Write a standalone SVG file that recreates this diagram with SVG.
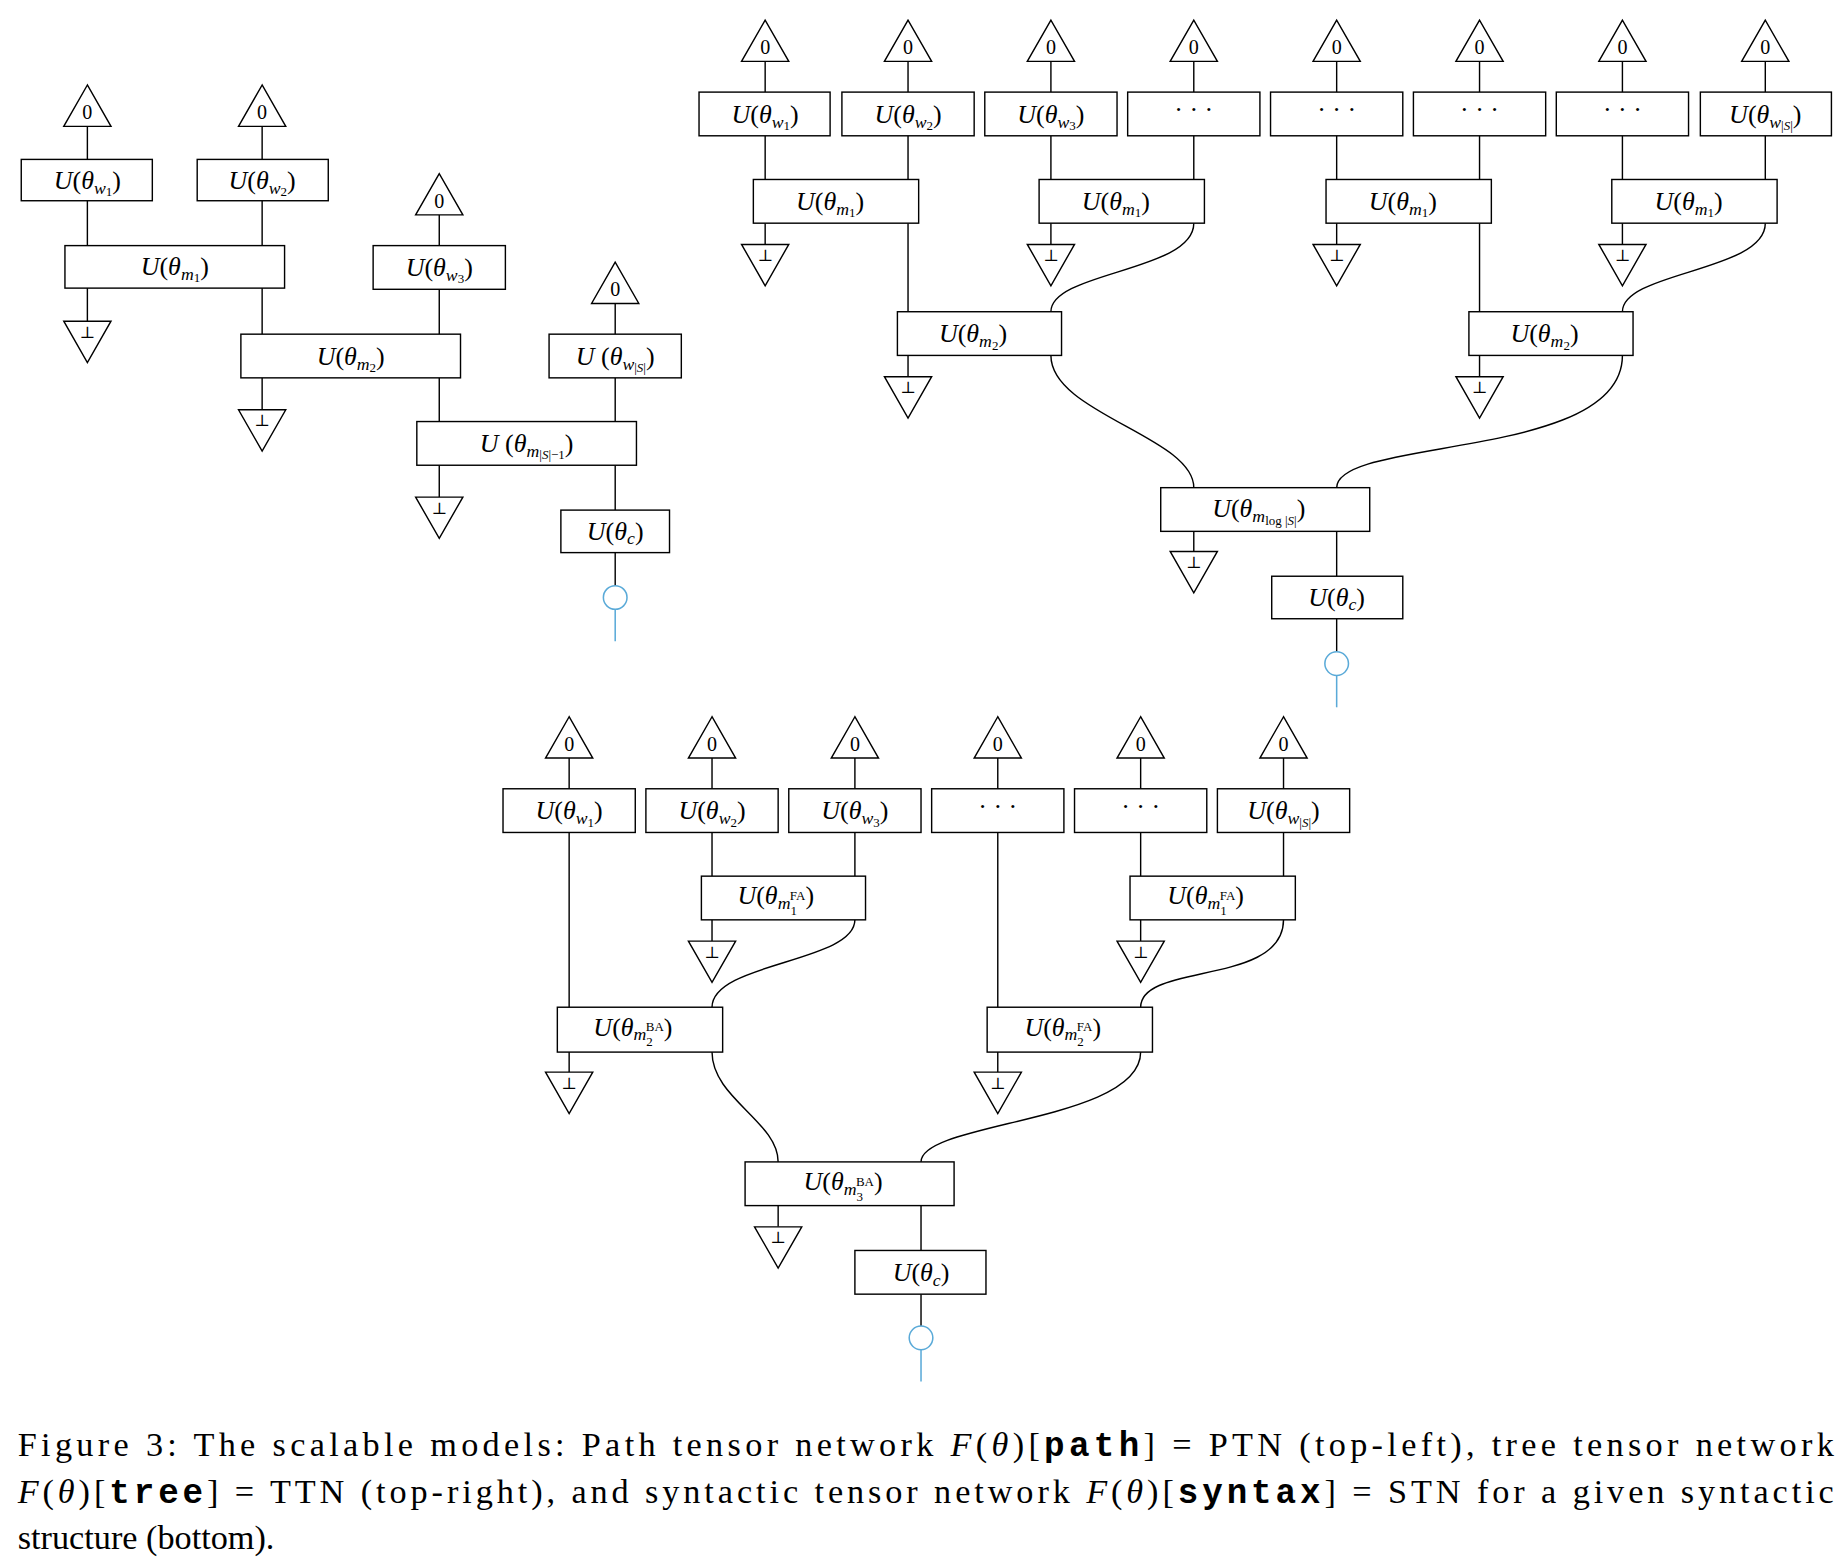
<svg xmlns="http://www.w3.org/2000/svg" width="1842" height="1564" viewBox="0 0 1842 1564">
<style>
.b{fill:#fff;stroke:#000;stroke-width:1.2}
.t{fill:#fff;stroke:#000;stroke-width:1.2}
.w{fill:none;stroke:#000;stroke-width:1.2}
.bl{fill:none;stroke:#5aaad8;stroke-width:1.3}
text{font-family:"Liberation Serif","DejaVu Serif",serif;fill:#000}
.l{font-size:22px;text-anchor:middle}
.i{font-style:italic}
.s{font-size:15px;font-style:italic}
.ss{font-size:11px}
.z{font-size:17px;text-anchor:middle}
.p{font-size:14px;text-anchor:middle}
.c{font-size:29px}
.m{font-family:"Liberation Mono","DejaVu Sans Mono",monospace;font-weight:bold}
</style>
<rect width="1842" height="1564" fill="#fff"/>
<g transform="scale(1.1808)">
<g id="connectors">
<!-- PTN -->
<path class="w" d="M74 107V135M222 107V135M74 170V208M222 170V208M74 244V272M372 182V208M222 244V283M372 245V283M222 320V347M521 257V283M372 320V357M521 320V357M372 394V421M521 394V432M521 468V496"/>
<path class="bl" d="M521 516V543"/>
<!-- TTN -->
<path class="w" d="M648 52V78M769 52V78M890 52V78M1011 52V78M1132 52V78M1253 52V78M1374 52V78M1495 52V78"/>
<path class="w" d="M648 115V152M769 115V152M890 115V152M1011 115V152M1132 115V152M1253 115V152M1374 115V152M1495 115V152"/>
<path class="w" d="M648 189V207M890 189V207M1132 189V207M1374 189V207"/>
<path class="w" d="M769 189V264M1253 189V264M1011 189C1011 230 890 230 890 264M1495 189C1495 230 1374 230 1374 264"/>
<path class="w" d="M769 301V319M1253 301V319M890 301C890 350 1011 370 1011 413M1374 301C1374 390 1132 370 1132 413"/>
<path class="w" d="M1011 450V467M1132 450V488M1132 524V552"/>
<path class="bl" d="M1132 572V599"/>
<!-- STN -->
<path class="w" d="M482 642V668M603 642V668M724 642V668M845 642V668M966 642V668M1087 642V668"/>
<path class="w" d="M603 705V742M724 705V742M966 705V742M1087 705V742M482 705V853M845 705V853"/>
<path class="w" d="M603 779V797M966 779V797M724 779C724 815 603 815 603 853M1087 779C1087 835 966 815 966 853"/>
<path class="w" d="M482 891V908M845 891V908M603 891C603 930 659 950 659 984M966 891C966 950 780 950 780 984"/>
<path class="w" d="M659 1021V1039M780 1021V1059M780 1096V1123"/>
<path class="bl" d="M780 1143V1170"/>
</g>

<!-- ===== PTN nodes ===== -->
<g id="ptn-z1"><polygon class="t" points="74,72 54,107 94,107"/><text class="z" x="74" y="101">0</text></g>
<g id="ptn-z2"><polygon class="t" points="222,72 202,107 242,107"/><text class="z" x="222" y="101">0</text></g>
<g id="ptn-z3"><polygon class="t" points="372,147 352,182 392,182"/><text class="z" x="372" y="176">0</text></g>
<g id="ptn-z4"><polygon class="t" points="521,222 501,257 541,257"/><text class="z" x="521" y="251">0</text></g>
<g id="ptn-w1"><rect class="b" x="18" y="135" width="111" height="35"/><text class="l" x="74" y="160"><tspan class="i">U</tspan>(<tspan class="i">θ</tspan><tspan class="s" dy="4">w</tspan><tspan class="ss" dy="2">1</tspan><tspan dy="-6">)</tspan></text></g>
<g id="ptn-w2"><rect class="b" x="167" y="135" width="111" height="35"/><text class="l" x="222" y="160"><tspan class="i">U</tspan>(<tspan class="i">θ</tspan><tspan class="s" dy="4">w</tspan><tspan class="ss" dy="2">2</tspan><tspan dy="-6">)</tspan></text></g>
<g id="ptn-m1"><rect class="b" x="55" y="208" width="186" height="36"/><text class="l" x="148" y="233"><tspan class="i">U</tspan>(<tspan class="i">θ</tspan><tspan class="s" dy="4">m</tspan><tspan class="ss" dy="2">1</tspan><tspan dy="-6">)</tspan></text></g>
<g id="ptn-w3"><rect class="b" x="316" y="208" width="112" height="37"/><text class="l" x="372" y="234"><tspan class="i">U</tspan>(<tspan class="i">θ</tspan><tspan class="s" dy="4">w</tspan><tspan class="ss" dy="2">3</tspan><tspan dy="-6">)</tspan></text></g>
<g id="ptn-m2"><rect class="b" x="204" y="283" width="186" height="37"/><text class="l" x="297" y="309"><tspan class="i">U</tspan>(<tspan class="i">θ</tspan><tspan class="s" dy="4">m</tspan><tspan class="ss" dy="2">2</tspan><tspan dy="-6">)</tspan></text></g>
<g id="ptn-ws"><rect class="b" x="465" y="283" width="112" height="37"/><text class="l" x="521" y="309"><tspan class="i">U</tspan> (<tspan class="i">θ</tspan><tspan class="s" dy="4">w</tspan><tspan class="ss" dy="2">|<tspan class="i">S</tspan>|</tspan><tspan dy="-6">)</tspan></text></g>
<g id="ptn-ms1"><rect class="b" x="353" y="357" width="186" height="37"/><text class="l" x="446" y="383"><tspan class="i">U</tspan> (<tspan class="i">θ</tspan><tspan class="s" dy="4">m</tspan><tspan class="ss" dy="2">|<tspan class="i">S</tspan>|−1</tspan><tspan dy="-6">)</tspan></text></g>
<g id="ptn-c"><rect class="b" x="475" y="432" width="92" height="36"/><text class="l" x="521" y="457"><tspan class="i">U</tspan>(<tspan class="i">θ</tspan><tspan class="s" dy="4">c</tspan><tspan dy="-4">)</tspan></text></g>
<g id="ptn-b1"><polygon class="t" points="54,272 94,272 74,307"/><text class="p" x="74" y="286">⊥</text></g>
<g id="ptn-b2"><polygon class="t" points="202,347 242,347 222,382"/><text class="p" x="222" y="361">⊥</text></g>
<g id="ptn-b3"><polygon class="t" points="352,421 392,421 372,456"/><text class="p" x="372" y="435">⊥</text></g>
<g id="ptn-out"><circle class="bl" cx="521" cy="506" r="10"/></g>

<!-- ===== TTN nodes ===== -->
<g id="ttn-z1"><polygon class="t" points="648,17 628,52 668,52"/><text class="z" x="648" y="46">0</text></g>
<g id="ttn-z2"><polygon class="t" points="769,17 749,52 789,52"/><text class="z" x="769" y="46">0</text></g>
<g id="ttn-z3"><polygon class="t" points="890,17 870,52 910,52"/><text class="z" x="890" y="46">0</text></g>
<g id="ttn-z4"><polygon class="t" points="1011,17 991,52 1031,52"/><text class="z" x="1011" y="46">0</text></g>
<g id="ttn-z5"><polygon class="t" points="1132,17 1112,52 1152,52"/><text class="z" x="1132" y="46">0</text></g>
<g id="ttn-z6"><polygon class="t" points="1253,17 1233,52 1273,52"/><text class="z" x="1253" y="46">0</text></g>
<g id="ttn-z7"><polygon class="t" points="1374,17 1354,52 1394,52"/><text class="z" x="1374" y="46">0</text></g>
<g id="ttn-z8"><polygon class="t" points="1495,17 1475,52 1515,52"/><text class="z" x="1495" y="46">0</text></g>
<g id="ttn-w1"><rect class="b" x="592" y="78" width="111" height="37"/><text class="l" x="648" y="104"><tspan class="i">U</tspan>(<tspan class="i">θ</tspan><tspan class="s" dy="4">w</tspan><tspan class="ss" dy="2">1</tspan><tspan dy="-6">)</tspan></text></g>
<g id="ttn-w2"><rect class="b" x="713" y="78" width="112" height="37"/><text class="l" x="769" y="104"><tspan class="i">U</tspan>(<tspan class="i">θ</tspan><tspan class="s" dy="4">w</tspan><tspan class="ss" dy="2">2</tspan><tspan dy="-6">)</tspan></text></g>
<g id="ttn-w3"><rect class="b" x="834" y="78" width="112" height="37"/><text class="l" x="890" y="104"><tspan class="i">U</tspan>(<tspan class="i">θ</tspan><tspan class="s" dy="4">w</tspan><tspan class="ss" dy="2">3</tspan><tspan dy="-6">)</tspan></text></g>
<g id="ttn-d1"><rect class="b" x="955" y="78" width="112" height="37"/><text class="l" x="1011" y="100">· · ·</text></g>
<g id="ttn-d2"><rect class="b" x="1076" y="78" width="112" height="37"/><text class="l" x="1132" y="100">· · ·</text></g>
<g id="ttn-d3"><rect class="b" x="1197" y="78" width="112" height="37"/><text class="l" x="1253" y="100">· · ·</text></g>
<g id="ttn-d4"><rect class="b" x="1318" y="78" width="112" height="37"/><text class="l" x="1374" y="100">· · ·</text></g>
<g id="ttn-ws"><rect class="b" x="1440" y="78" width="111" height="37"/><text class="l" x="1495" y="104"><tspan class="i">U</tspan>(<tspan class="i">θ</tspan><tspan class="s" dy="4">w</tspan><tspan class="ss" dy="2">|<tspan class="i">S</tspan>|</tspan><tspan dy="-6">)</tspan></text></g>
<g id="ttn-m1a"><rect class="b" x="638" y="152" width="140" height="37"/><text class="l" x="703" y="178"><tspan class="i">U</tspan>(<tspan class="i">θ</tspan><tspan class="s" dy="4">m</tspan><tspan class="ss" dy="2">1</tspan><tspan dy="-6">)</tspan></text></g>
<g id="ttn-m1b"><rect class="b" x="880" y="152" width="140" height="37"/><text class="l" x="945" y="178"><tspan class="i">U</tspan>(<tspan class="i">θ</tspan><tspan class="s" dy="4">m</tspan><tspan class="ss" dy="2">1</tspan><tspan dy="-6">)</tspan></text></g>
<g id="ttn-m1c"><rect class="b" x="1123" y="152" width="140" height="37"/><text class="l" x="1188" y="178"><tspan class="i">U</tspan>(<tspan class="i">θ</tspan><tspan class="s" dy="4">m</tspan><tspan class="ss" dy="2">1</tspan><tspan dy="-6">)</tspan></text></g>
<g id="ttn-m1d"><rect class="b" x="1365" y="152" width="140" height="37"/><text class="l" x="1430" y="178"><tspan class="i">U</tspan>(<tspan class="i">θ</tspan><tspan class="s" dy="4">m</tspan><tspan class="ss" dy="2">1</tspan><tspan dy="-6">)</tspan></text></g>
<g id="ttn-b1"><polygon class="t" points="628,207 668,207 648,242"/><text class="p" x="648" y="221">⊥</text></g>
<g id="ttn-b2"><polygon class="t" points="870,207 910,207 890,242"/><text class="p" x="890" y="221">⊥</text></g>
<g id="ttn-b3"><polygon class="t" points="1112,207 1152,207 1132,242"/><text class="p" x="1132" y="221">⊥</text></g>
<g id="ttn-b4"><polygon class="t" points="1354,207 1394,207 1374,242"/><text class="p" x="1374" y="221">⊥</text></g>
<g id="ttn-m2a"><rect class="b" x="760" y="264" width="139" height="37"/><text class="l" x="824" y="290"><tspan class="i">U</tspan>(<tspan class="i">θ</tspan><tspan class="s" dy="4">m</tspan><tspan class="ss" dy="2">2</tspan><tspan dy="-6">)</tspan></text></g>
<g id="ttn-m2b"><rect class="b" x="1244" y="264" width="139" height="37"/><text class="l" x="1308" y="290"><tspan class="i">U</tspan>(<tspan class="i">θ</tspan><tspan class="s" dy="4">m</tspan><tspan class="ss" dy="2">2</tspan><tspan dy="-6">)</tspan></text></g>
<g id="ttn-b5"><polygon class="t" points="749,319 789,319 769,354"/><text class="p" x="769" y="333">⊥</text></g>
<g id="ttn-b6"><polygon class="t" points="1233,319 1273,319 1253,354"/><text class="p" x="1253" y="333">⊥</text></g>
<g id="ttn-mlog"><rect class="b" x="983" y="413" width="177" height="37"/><text class="l" x="1066" y="438"><tspan class="i">U</tspan>(<tspan class="i">θ</tspan><tspan class="s" dy="4">m</tspan><tspan class="ss" dy="3">log |<tspan class="i">S</tspan>|</tspan><tspan dy="-7">)</tspan></text></g>
<g id="ttn-b7"><polygon class="t" points="991,467 1031,467 1011,502"/><text class="p" x="1011" y="481">⊥</text></g>
<g id="ttn-c"><rect class="b" x="1077" y="488" width="111" height="36"/><text class="l" x="1132" y="513"><tspan class="i">U</tspan>(<tspan class="i">θ</tspan><tspan class="s" dy="4">c</tspan><tspan dy="-4">)</tspan></text></g>
<g id="ttn-out"><circle class="bl" cx="1132" cy="562" r="10"/></g>

<!-- ===== STN nodes ===== -->
<g id="stn-z1"><polygon class="t" points="482,607 462,642 502,642"/><text class="z" x="482" y="636">0</text></g>
<g id="stn-z2"><polygon class="t" points="603,607 583,642 623,642"/><text class="z" x="603" y="636">0</text></g>
<g id="stn-z3"><polygon class="t" points="724,607 704,642 744,642"/><text class="z" x="724" y="636">0</text></g>
<g id="stn-z4"><polygon class="t" points="845,607 825,642 865,642"/><text class="z" x="845" y="636">0</text></g>
<g id="stn-z5"><polygon class="t" points="966,607 946,642 986,642"/><text class="z" x="966" y="636">0</text></g>
<g id="stn-z6"><polygon class="t" points="1087,607 1067,642 1107,642"/><text class="z" x="1087" y="636">0</text></g>
<g id="stn-w1"><rect class="b" x="426" y="668" width="112" height="37"/><text class="l" x="482" y="694"><tspan class="i">U</tspan>(<tspan class="i">θ</tspan><tspan class="s" dy="4">w</tspan><tspan class="ss" dy="2">1</tspan><tspan dy="-6">)</tspan></text></g>
<g id="stn-w2"><rect class="b" x="547" y="668" width="112" height="37"/><text class="l" x="603" y="694"><tspan class="i">U</tspan>(<tspan class="i">θ</tspan><tspan class="s" dy="4">w</tspan><tspan class="ss" dy="2">2</tspan><tspan dy="-6">)</tspan></text></g>
<g id="stn-w3"><rect class="b" x="668" y="668" width="112" height="37"/><text class="l" x="724" y="694"><tspan class="i">U</tspan>(<tspan class="i">θ</tspan><tspan class="s" dy="4">w</tspan><tspan class="ss" dy="2">3</tspan><tspan dy="-6">)</tspan></text></g>
<g id="stn-d1"><rect class="b" x="789" y="668" width="112" height="37"/><text class="l" x="845" y="690">· · ·</text></g>
<g id="stn-d2"><rect class="b" x="910" y="668" width="112" height="37"/><text class="l" x="966" y="690">· · ·</text></g>
<g id="stn-ws"><rect class="b" x="1031" y="668" width="112" height="37"/><text class="l" x="1087" y="694"><tspan class="i">U</tspan>(<tspan class="i">θ</tspan><tspan class="s" dy="4">w</tspan><tspan class="ss" dy="2">|<tspan class="i">S</tspan>|</tspan><tspan dy="-6">)</tspan></text></g>
<g id="stn-m1a"><rect class="b" x="594" y="742" width="139" height="37"/><text class="l" x="657" y="766"><tspan class="i">U</tspan>(<tspan class="i">θ</tspan><tspan class="s" dy="4">m</tspan><tspan class="ss" dy="5">1</tspan><tspan class="ss" dx="-6" dy="-13">FA</tspan><tspan dy="4">)</tspan></text></g>
<g id="stn-m1b"><rect class="b" x="957" y="742" width="140" height="37"/><text class="l" x="1021" y="766"><tspan class="i">U</tspan>(<tspan class="i">θ</tspan><tspan class="s" dy="4">m</tspan><tspan class="ss" dy="5">1</tspan><tspan class="ss" dx="-6" dy="-13">FA</tspan><tspan dy="4">)</tspan></text></g>
<g id="stn-b1"><polygon class="t" points="583,797 623,797 603,832"/><text class="p" x="603" y="811">⊥</text></g>
<g id="stn-b2"><polygon class="t" points="946,797 986,797 966,832"/><text class="p" x="966" y="811">⊥</text></g>
<g id="stn-m2a"><rect class="b" x="472" y="853" width="140" height="38"/><text class="l" x="536" y="877"><tspan class="i">U</tspan>(<tspan class="i">θ</tspan><tspan class="s" dy="4">m</tspan><tspan class="ss" dy="5">2</tspan><tspan class="ss" dx="-6" dy="-13">BA</tspan><tspan dy="4">)</tspan></text></g>
<g id="stn-m2b"><rect class="b" x="836" y="853" width="140" height="38"/><text class="l" x="900" y="877"><tspan class="i">U</tspan>(<tspan class="i">θ</tspan><tspan class="s" dy="4">m</tspan><tspan class="ss" dy="5">2</tspan><tspan class="ss" dx="-6" dy="-13">FA</tspan><tspan dy="4">)</tspan></text></g>
<g id="stn-b3"><polygon class="t" points="462,908 502,908 482,943"/><text class="p" x="482" y="922">⊥</text></g>
<g id="stn-b4"><polygon class="t" points="825,908 865,908 845,943"/><text class="p" x="845" y="922">⊥</text></g>
<g id="stn-m3"><rect class="b" x="631" y="984" width="177" height="37"/><text class="l" x="714" y="1008"><tspan class="i">U</tspan>(<tspan class="i">θ</tspan><tspan class="s" dy="4">m</tspan><tspan class="ss" dy="5">3</tspan><tspan class="ss" dx="-6" dy="-13">BA</tspan><tspan dy="4">)</tspan></text></g>
<g id="stn-b5"><polygon class="t" points="639,1039 679,1039 659,1074"/><text class="p" x="659" y="1053">⊥</text></g>
<g id="stn-c"><rect class="b" x="724" y="1059" width="111" height="37"/><text class="l" x="780" y="1085"><tspan class="i">U</tspan>(<tspan class="i">θ</tspan><tspan class="s" dy="4">c</tspan><tspan dy="-4">)</tspan></text></g>
<g id="stn-out"><circle class="bl" cx="780" cy="1133" r="10"/></g>

<!-- caption -->
<g id="caption">
<text class="c" x="15" y="1233" textLength="1538" lengthAdjust="spacing">Figure 3:  The scalable models:  Path tensor network <tspan class="i">F</tspan>(<tspan class="i">θ</tspan>)[<tspan class="m">path</tspan>] = PTN (top-left), tree tensor network</text>
<text class="c" x="15" y="1273" textLength="1538" lengthAdjust="spacing"><tspan class="i">F</tspan>(<tspan class="i">θ</tspan>)[<tspan class="m">tree</tspan>] = TTN (top-right), and syntactic tensor network <tspan class="i">F</tspan>(<tspan class="i">θ</tspan>)[<tspan class="m">syntax</tspan>] = STN for a given syntactic</text>
<text class="c" x="15" y="1312">structure (bottom).</text>
</g>
</g>
</svg>
